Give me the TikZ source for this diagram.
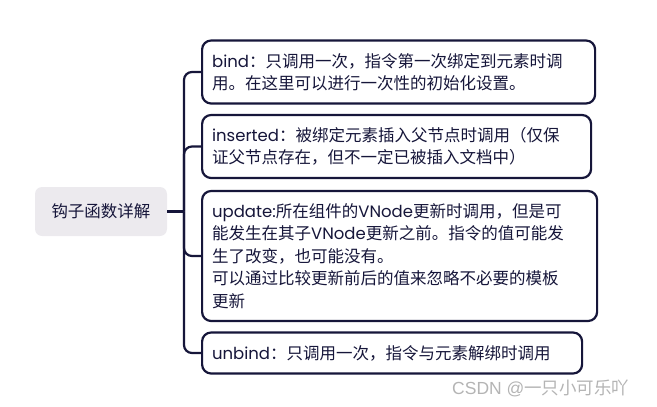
\documentclass[tikz,border=0pt]{standalone}
\usepackage{fontspec}
\setmainfont{Noto Sans CJK SC}
\newfontfamily\latin{Poppins}
\newfontfamily\arial{Liberation Sans}
\usepackage{tikz}
\usetikzlibrary{positioning}

\definecolor{navy}{HTML}{16163A}
\definecolor{rootgray}{HTML}{ECEAEE}
\definecolor{markgray}{HTML}{B4B4B4}

\tikzset{
  hook/.style={draw=navy, line width=2.2pt, rounded corners=9pt, fill=white,
    align=left, anchor=west, inner xsep=10pt, inner ysep=0pt,
    font=\fontsize{16.5}{22.5}\selectfont, text=navy},
  branch/.style={draw=navy, line width=2.2pt, rounded corners=8pt},
}

\begin{document}
\begin{tikzpicture}[x=1pt, y=-1pt]
\useasboundingbox (0,0) rectangle (657,407);

% root
\node[fill=rootgray, rounded corners=7pt, minimum width=132pt, minimum height=49pt,
  font=\fontsize{16.5}{20}\selectfont, text=navy] (root) at (101,211.5) {钩子函数详解};

% hooks
\node[hook, text width=373pt, minimum height=63pt] (bind) at (201,72)
  {{\latin bind}：只调用一次，指令第一次绑定到元素时调\\用。在这里可以进行一次性的初始化设置。};
\node[hook, text width=369pt, minimum height=63pt] (inserted) at (201,146.5)
  {{\latin inserted}：被绑定元素插入父节点时调用（仅保\\证父节点存在，但不一定已被插入文档中）};
\node[hook, text width=375pt, minimum height=130pt] (update) at (201,256)
  {{\latin update:}所在组件的{\latin VNode}更新时调用，但是可\\能发生在其子{\latin VNode}更新之前。指令的值可能发\\生了改变，也可能没有。\\可以通过比较更新前后的值来忽略不必要的模板\\更新};
\node[hook, text width=360pt, minimum height=41pt] (unbind) at (201,353)
  {{\latin unbind}：只调用一次，指令与元素解绑时调用};

% connectors
\coordinate (trunk) at (184,211.5);
\draw[branch] (root.east) -- (trunk);
\foreach \h in {bind,inserted,update,unbind}
  \draw[branch] (trunk) |- (\h.west);

% watermark
\node[anchor=west, text=markgray, font=\fontsize{17.5}{20}\selectfont, inner sep=0pt] (mark) at (452,388)
  {{\arial CSDN @}一只小可乐吖};
\end{tikzpicture}
\end{document}
